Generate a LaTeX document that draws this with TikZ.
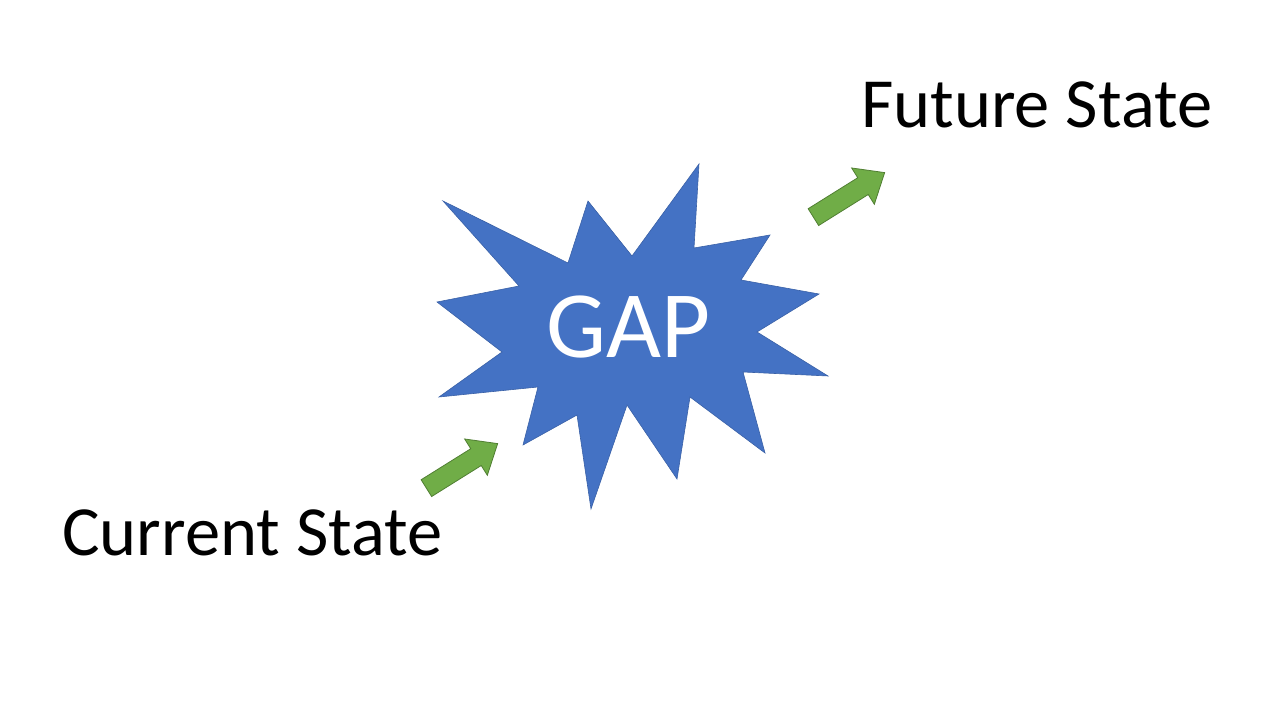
\documentclass[tikz,border=0pt]{standalone}
\usepackage{fontspec}
\setmainfont{Carlito}
\usepackage{xcolor}
\usetikzlibrary{shapes.arrows}

\definecolor{gapblue}{HTML}{4472C4}
\definecolor{gapgreen}{HTML}{70AD47}
\definecolor{gapgreenline}{HTML}{507E32}

\begin{document}
\begin{tikzpicture}[
  x=1pt, y=1pt,
  label/.style={anchor=base west, inner sep=0, font=\fontsize{70.5}{74}\selectfont},
  burst/.style={fill=gapblue, draw=gapblue!85!black, line width=0.6pt, line join=miter},
  blockarrow/.style={single arrow, fill=gapgreen, draw=gapgreenline, line width=0.8pt,
    minimum height=84, inner xsep=0, inner ysep=9.5, text height=0, text depth=0,
    single arrow head extend=11.5, single arrow tip angle=80, rotate=32}
]
\useasboundingbox (0,0) rectangle (1280,720);

% the burst shape
\draw[burst] (699,556) -- (694,472) -- (770,485) -- (741,440) -- (819,426)
  -- (757,388) -- (828,344) -- (743,348) -- (765,267) -- (690,323)
  -- (677,241) -- (627,315) -- (591,211) -- (577,305) -- (523,275)
  -- (538,333) -- (439,323) -- (502,368) -- (437,418) -- (519,434)
  -- (443,519) -- (568,457) -- (588,519) -- (632,464) -- cycle;
\node[anchor=base west, inner sep=0, text=white, font=\fontsize{95}{100}\selectfont] (gap) at (546,362) {GAP};

% arrows in and out
\node[blockarrow] (arrowin) at (457,251) {};
\node[blockarrow] (arrowout) at (844,522) {};

% states
\node[label] (current) at (62,164) {Current State};
\node[label] (future) at (861,592) {Future State};
\end{tikzpicture}
\end{document}
